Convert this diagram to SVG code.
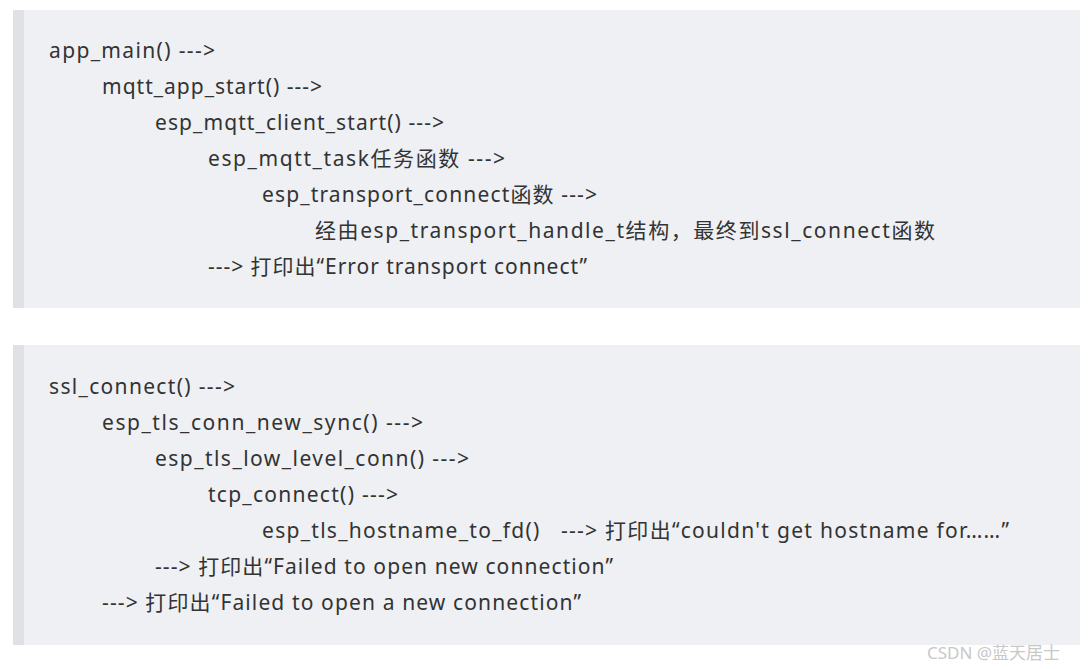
<svg xmlns="http://www.w3.org/2000/svg" width="1090" height="669" viewBox="0 0 1090 669">
<style>
.bg{fill:#eef0f4}.bar{fill:#dfe1e5}
text{font-family:"Noto Sans","Noto Sans CJK SC",sans-serif;font-size:21px;fill:#333}
.wm{font-size:17px;fill:#c8c8c8}
</style>
<rect width="1090" height="669" fill="#fff"/>
<rect class="bg" x="13" y="10" width="1067" height="298"/>
<rect class="bar" x="13" y="10" width="11" height="298"/>
<rect class="bg" x="13" y="345" width="1067" height="300"/>
<rect class="bar" x="13" y="345" width="11" height="300"/>
<text x="49" y="58" textLength="166">app_main() ---&gt;</text>
<text x="102" y="94" textLength="220">mqtt_app_start() ---&gt;</text>
<text x="155" y="130" textLength="289">esp_mqtt_client_start() ---&gt;</text>
<text x="208" y="166" textLength="297">esp_mqtt_task任务函数 ---&gt;</text>
<text x="262" y="202" textLength="335">esp_transport_connect函数 ---&gt;</text>
<text x="315" y="238" textLength="620">经由esp_transport_handle_t结构，最终到ssl_connect函数</text>
<text x="208" y="274" textLength="379">---&gt; 打印出“Error transport connect”</text>
<text x="49" y="394" textLength="186">ssl_connect() ---&gt;</text>
<text x="102" y="430" textLength="321">esp_tls_conn_new_sync() ---&gt;</text>
<text x="155" y="466" textLength="314">esp_tls_low_level_conn() ---&gt;</text>
<text x="208" y="502" textLength="190">tcp_connect() ---&gt;</text>
<text x="262" y="538" xml:space="preserve" textLength="747">esp_tls_hostname_to_fd()   ---&gt; 打印出“couldn't get hostname for……”</text>
<text x="155" y="574" textLength="458">---&gt; 打印出“Failed to open new connection”</text>
<text x="102" y="610" textLength="479">---&gt; 打印出“Failed to open a new connection”</text>
<text class="wm" x="927" y="659">CSDN @蓝天居士</text>
</svg>
